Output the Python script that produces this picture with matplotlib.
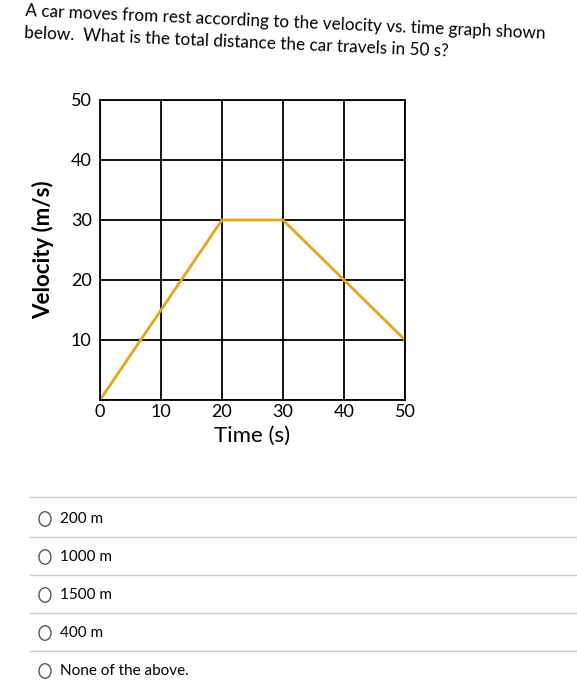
import matplotlib
matplotlib.use("Agg")
import matplotlib.pyplot as plt
from matplotlib.lines import Line2D
from matplotlib.patches import Circle

plt.rcParams['font.family'] = ['Lato', 'DejaVu Sans']

time = [0, 20, 30, 50]
velocity = [0, 30, 30, 10]
ticks = [0, 10, 20, 30, 40, 50]
options = ["200 m", "1000 m", "1500 m", "400 m", "None of the above."]

W, H = 577, 700
fig = plt.figure(figsize=(W/100, H/100), dpi=100)
ax = fig.add_axes([100/W, 1-400/H, 305/W, 300/H])
ax.plot(time, velocity, color='#e8a317', lw=2)
ax.set_xlim(0, 50); ax.set_ylim(0, 50)
ax.set_xticks(ticks); ax.set_yticks(ticks)
ax.grid(True, color='black', lw=1.3)
for s in ax.spines.values():
    s.set_linewidth(1.3)
ax.tick_params(length=0, labelsize=13)
ax.tick_params(axis='x', pad=3)
ax.tick_params(axis='y', pad=6)
ax.set_yticklabels(['', '10', '20', '30', '40', '50'])
ax.set_xlabel("Time (s)", fontsize=16, labelpad=4)
ax.set_ylabel("Velocity (m/s)", fontsize=16, fontweight='bold', labelpad=12)

fig.text(25/W, 1-22/H,
         "A car moves from rest according to the velocity vs. time graph shown\n"
         "below.  What is the total distance the car travels in 50 s?",
         fontsize=12.3, rotation=-2.5, rotation_mode='anchor', va='center',
         linespacing=1.5)

sep_y = [497, 537, 575, 613, 651]
for y in sep_y:
    fig.add_artist(Line2D([30/W, 577/W], [1-y/H, 1-y/H], color='#cccccc', lw=1))
opt_y = [519, 557, 595, 633, 671]
for y, t in zip(opt_y, options):
    fig.add_artist(Circle((45/W, 1-y/H), 6/W, transform=fig.transFigure,
                          fill=False, ec='#555555', lw=1))
    fig.text(60/W, 1-y/H, t, fontsize=11, va='center')

fig.savefig("out.png", dpi=100, facecolor='white')
